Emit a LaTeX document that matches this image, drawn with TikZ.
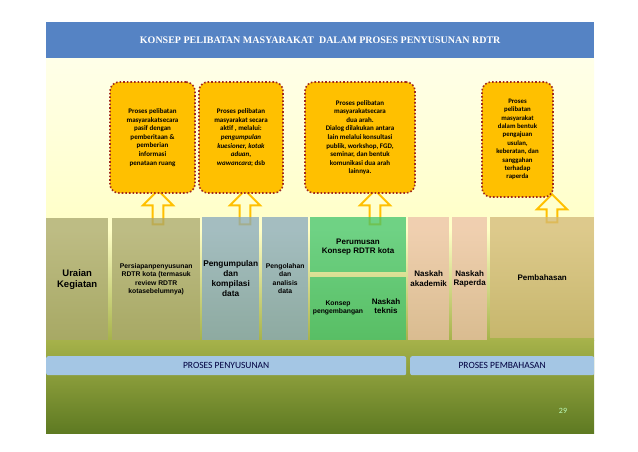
\documentclass[tikz,border=0pt]{standalone}
\usepackage{fontspec}
\setmainfont{Carlito}
\newfontfamily\arialf{Liberation Sans}
\newfontfamily\titlef{Liberation Serif}
\usetikzlibrary{shapes.arrows}
\definecolor{titleblue}{HTML}{5583C4}
\definecolor{callo}{HTML}{FFC000}
\definecolor{dotred}{HTML}{A0281E}
\definecolor{olivebox}{HTML}{A8A66E}
\definecolor{bluebox}{HTML}{86A8BE}
\definecolor{greenbox}{HTML}{3FC36E}
\definecolor{pinkbox}{HTML}{EBC0A8}
\definecolor{tanbox}{HTML}{D2B878}
\definecolor{barblue}{HTML}{A4C6E4}
\definecolor{bgmid}{HTML}{A6B24A}
\definecolor{bgbot}{HTML}{5E7A22}
\begin{document}
\begin{tikzpicture}[x=1pt,y=-1pt,
  callout/.style={draw=dotred,line width=1.6pt,dotted,fill=callo,rounded corners=9pt,align=center,font=\bfseries\fontsize{7}{8.6}\selectfont,inner sep=2pt},
  kbox/.style={fill opacity=0.75,text opacity=1,align=center,font=\arialf\bfseries\fontsize{7}{8.4}\selectfont,inner sep=0pt},
  upar/.style={single arrow,draw=callo,line width=2pt,fill=none,rotate=90,minimum height=34pt,minimum width=30pt,single arrow head extend=7pt,inner sep=3pt,single arrow head indent=0pt},
  bar/.style={fill=barblue,rounded corners=2pt,font=\fontsize{9.5}{11}\selectfont,text=black!75!blue,inner sep=0pt}]
\useasboundingbox (0,0) rectangle (638,451);
\fill[white] (0,0) rectangle (638,451);
\shade[top color=yellow!6,bottom color=yellow!22!white] (46,22) rectangle (594,230);
\shade[top color=yellow!22!white,bottom color=bgmid] (46,230) rectangle (594,340);
\shade[top color=bgmid,bottom color=bgbot] (46,340) rectangle (594,433);
\node[fill=titleblue,minimum width=548pt,minimum height=36pt,anchor=north west,text=white,font=\titlef\bfseries\fontsize{10}{12}\selectfont,inner sep=0pt] (title) at (46,22) {KONSEP PELIBATAN MASYARAKAT\ \ DALAM PROSES PENYUSUNAN RDTR};
% arrows (behind boxes' text)
\node[upar] (a1) at (158,210) {};
\node[upar] (a2) at (245,210) {};
\node[upar] (a3) at (375,210) {};
\node[upar,minimum height=28pt] (a4) at (552,211) {};
% boxes
\node[kbox,fill=olivebox,minimum width=62pt,minimum height=122pt,anchor=north west,font=\arialf\bfseries\fontsize{9.5}{11}\selectfont] (ur) at (46,218) {Uraian\\Kegiatan};
\node[kbox,fill=olivebox,minimum width=88pt,minimum height=122pt,anchor=north west,font=\arialf\bfseries\fontsize{6.8}{8.4}\selectfont] (pers) at (112,218) {Persiapanpenyusunan\\RDTR kota (termasuk\\review RDTR\\kotasebelumnya)};
\node[kbox,fill=bluebox,minimum width=57pt,minimum height=123pt,anchor=north west,font=\arialf\bfseries\fontsize{8.3}{10}\selectfont] (peng) at (202,217) {Pengumpulan\\dan\\kompilasi\\data};
\node[kbox,fill=bluebox,minimum width=46pt,minimum height=123pt,anchor=north west,font=\arialf\bfseries\fontsize{6.8}{8.4}\selectfont] (pengo) at (262,217) {Pengolahan\\dan\\analisis\\data};
\node[kbox,fill=greenbox,minimum width=96pt,minimum height=55pt,anchor=north west] (per) at (310,217) {};
\node[font=\arialf\bfseries\fontsize{8}{9.5}\selectfont,align=center,anchor=north] (pert) at (358,235) {Perumusan\\Konsep RDTR kota};
\node[kbox,fill=greenbox,minimum width=56pt,minimum height=63pt,anchor=north west] (kon) at (310,277) {};
\node[kbox,fill=greenbox,minimum width=40pt,minimum height=63pt,anchor=north west] (nt) at (366,277) {};
\node[font=\arialf\bfseries\fontsize{6.8}{8.4}\selectfont,align=center] (kont) at (338,308) {Konsep\\pengembangan};
\node[font=\arialf\bfseries\fontsize{8}{9.5}\selectfont,align=center] (ntt) at (386,306) {Naskah\\teknis};
\node[kbox,fill=pinkbox,minimum width=41pt,minimum height=123pt,anchor=north west,font=\arialf\bfseries\fontsize{8}{9.5}\selectfont] (na) at (408,217) {Naskah\\akademik};
\node[kbox,fill=pinkbox,minimum width=35pt,minimum height=123pt,anchor=north west,font=\arialf\bfseries\fontsize{8}{9.5}\selectfont] (nr) at (452,217) {Naskah\\Raperda};
\node[kbox,fill=tanbox,minimum width=104pt,minimum height=121pt,anchor=north west,font=\arialf\bfseries\fontsize{8}{9.5}\selectfont] (pb) at (490,217) {Pembahasan};
% bars
\node[bar,minimum width=360pt,minimum height=19pt,anchor=north west] (b1) at (46,356) {PROSES PENYUSUNAN};
\node[bar,minimum width=184pt,minimum height=19pt,anchor=north west] (b2) at (410,356) {PROSES PEMBAHASAN};
\node[text=white!75!green,font=\fontsize{8}{9}\selectfont] (pg) at (563,411) {29};
% callouts
\node[callout,minimum width=85pt,minimum height=111pt] (c1) at (152.5,137.5) {Proses pelibatan\\masyarakatsecara\\pasif dengan\\pemberitaan \&\\pemberian\\informasi\\penataan ruang};
\node[callout,minimum width=84pt,minimum height=111pt] (c2) at (241,137.5) {Proses pelibatan\\masyarakat secara\\aktif , melalui:\\\textit{pengumpulan}\\\textit{kuesioner, kotak}\\\textit{aduan},\\\textit{wawancara}; dsb};
\node[callout,minimum width=110pt,minimum height=111pt] (c3) at (360,137.5) {Proses pelibatan\\masyarakatsecara\\dua arah.\\Dialog dilakukan antara\\lain melalui konsultasi\\publik, workshop, FGD,\\seminar, dan bentuk\\komunikasi dua arah\\lainnya.};
\node[callout,minimum width=71pt,minimum height=115pt,font=\bfseries\fontsize{6.8}{8.4}\selectfont] (c4) at (517.5,139.5) {Proses\\pelibatan\\masyarakat\\dalam bentuk\\pengajuan\\usulan,\\keberatan, dan\\sanggahan\\terhadap\\raperda};
\end{tikzpicture}
\end{document}
